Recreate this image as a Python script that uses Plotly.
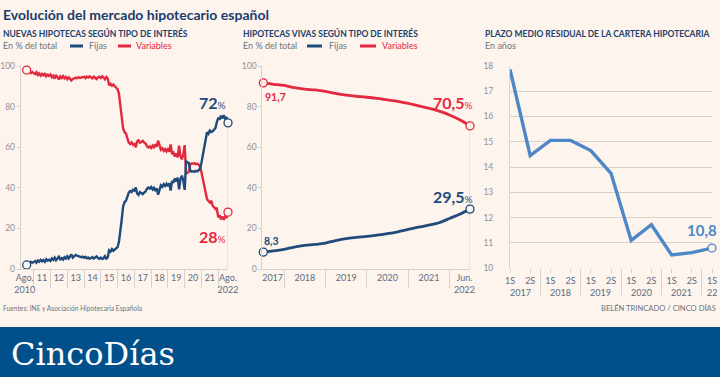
import plotly.graph_objects as go
import pandas as pd

# ---------------- DATA ----------------
# Panel 1: new mortgages by rate type, monthly Aug 2010 - Aug 2022 (% of total)
months_nuevas = pd.date_range("2010-08-01", "2022-08-01", freq="MS")
fijas_nuevas = [
    2.0, 3.2, 2.8, 3.5, 3.0,
    3.4, 3.9, 3.1, 4.2, 3.6, 4.5, 3.8, 4.4, 3.5, 4.8, 4.1, 4.6,
    4.0, 5.2, 4.5, 5.6, 4.3, 5.0, 6.1, 4.8, 5.4, 4.7, 5.8, 5.1,
    6.3, 5.2, 5.9, 7.2, 5.6, 6.4, 6.9, 6.6, 6.2, 6.0, 5.8, 6.1,
    5.5, 6.0, 5.3, 5.7, 5.0, 5.4, 5.9, 5.1, 5.6, 6.2, 5.4, 5.0,
    5.6, 4.9, 5.3, 6.3, 5.1, 5.7, 9.2, 8.6, 9.8, 9.0, 9.6, 10.4,
    10.8, 13.5, 18.0, 24.5, 30.8, 33.0, 33.6, 35.8, 37.6, 38.4, 37.9, 39.0,
    38.6, 40.2, 37.2, 36.5, 37.8, 37.4, 36.9, 37.6, 38.2, 39.5, 40.1, 39.6,
    40.4, 39.2, 40.0, 38.4, 39.8, 36.6, 38.6, 41.2, 40.5, 41.8, 40.9, 42.0,
    40.8, 42.2, 38.6, 43.4, 42.5, 44.6, 43.1, 45.0, 39.2, 44.4, 46.0, 43.6,
    39.0, 53.0, 52.6, 52.2, 48.5, 48.0, 48.2, 47.9, 48.4, 48.1, 48.6, 49.5,
    52.5, 56.0, 60.2, 63.8, 67.4, 66.6, 68.2, 67.5, 67.8, 68.6, 69.5, 72.4,
    74.5, 73.6, 75.5, 74.2, 75.8, 74.0, 74.8, 72.0,
]
variables_nuevas = [
    98.0, 96.8, 97.4, 96.5, 97.0,
    96.6, 96.0, 96.9, 95.6, 96.3, 95.2, 96.1, 95.4, 96.4, 94.9, 95.7, 95.1,
    95.8, 94.5, 95.2, 93.8, 95.6, 94.7, 93.4, 94.9, 94.1, 95.0, 93.9, 94.6,
    93.5, 94.4, 93.8, 92.9, 93.6, 93.9, 94.2, 94.0, 94.5, 94.1, 94.4, 94.3,
    94.7, 94.0, 94.8, 94.3, 94.9, 94.4, 93.9, 94.7, 94.2, 93.6, 94.5, 94.8,
    94.1, 94.9, 94.3, 93.4, 94.6, 93.9, 90.5, 91.2, 90.3, 90.9, 90.0, 89.2,
    88.6, 86.2, 81.5, 75.3, 69.2, 67.4, 66.8, 64.5, 62.3, 61.6, 62.4, 61.2,
    61.5, 60.0, 62.8, 63.4, 62.2, 62.6, 63.1, 62.4, 61.8, 60.5, 59.9, 60.4,
    59.6, 60.8, 60.0, 61.4, 60.2, 63.2, 61.4, 58.8, 59.5, 58.2, 59.1, 57.9,
    59.0, 57.8, 61.4, 56.6, 57.3, 55.4, 56.9, 55.0, 60.8, 55.6, 54.0, 56.4,
    61.0, 47.0, 47.4, 47.8, 51.5, 52.0, 51.8, 52.1, 51.6, 51.9, 51.4, 50.5,
    47.5, 44.0, 40.0, 37.0, 34.5, 33.5, 32.8, 33.6, 31.2, 30.4, 29.5, 29.8,
    25.5, 26.4, 24.5, 25.8, 24.2, 26.0, 25.2, 28.0,
]
ticks_nuevas = ["2010-06-20"] + [f"{y}-07-02" for y in range(2011, 2022)] + ["2022-08-01"]
ticktext_nuevas = ["Ago.<br>2010"] + [str(y)[2:] for y in range(2011, 2022)] + ["Ago.<br>2022"]
sep_nuevas = [f"{y}-01-01" for y in range(2011, 2023)]

# Panel 2: outstanding mortgages by rate type, quarterly Jun 2017 - Jun 2022
quarters_vivas = [
    "2017-06-30", "2017-09-30", "2017-12-31",
    "2018-03-31", "2018-06-30", "2018-09-30", "2018-12-31",
    "2019-03-31", "2019-06-30", "2019-09-30", "2019-12-31",
    "2020-03-31", "2020-06-30", "2020-09-30", "2020-12-31",
    "2021-03-31", "2021-06-30", "2021-09-30", "2021-12-31",
    "2022-03-31", "2022-06-30",
]
fijas_vivas = [8.3, 8.9, 9.7, 10.8, 11.6, 12.1, 12.8, 14.0, 15.0, 15.6, 16.1,
               16.7, 17.4, 18.3, 19.5, 20.6, 21.6, 22.8, 24.9, 27.0, 29.5]
variables_vivas = [91.7, 91.0, 90.4, 89.3, 88.6, 88.2, 87.5, 86.5, 85.6, 85.1, 84.6,
                   84.0, 83.3, 82.6, 81.6, 80.4, 79.2, 77.8, 75.9, 73.5, 70.5]
ticks_vivas = ["2017-09-20", "2018-07-02", "2019-07-02", "2020-07-01", "2021-07-02", "2022-05-12"]
ticktext_vivas = ["2017", "2018", "2019", "2020", "2021", "Jun.<br>2022"]
sep_vivas = [f"{y}-01-01" for y in range(2018, 2023)]

# Panel 3: average residual term of mortgage portfolio (years), half-yearly
semestres = ["1S", "2S", "1S", "2S", "1S", "2S", "1S", "2S", "1S", "2S", "1S"]
anios_plazo = ["2017", "2018", "2019", "2020", "2021", "22"]
plazo = [17.85, 14.45, 15.05, 15.05, 14.65, 13.75, 11.1, 11.72, 10.53, 10.62, 10.8]

# ---------------- STYLE ----------------
W, H = 720, 377
FONT = "Lato"
NAVY = "#1F4A7C"
RED = "#E2293F"
LBLUE = "#4D87C7"
BG = "#FCF4ED"
AXIS = "#D8D2CC"
YTICK = "#8E939B"
XTICK = "#5E6C80"
TITLE = "#1B3D6C"
SUBT = "#22406A"
GRAYTXT = "#6E7480"
BANNER = "#02508B"


def px(x):
    return x / W


def py(y):
    return 1 - y / H


fig = go.Figure()

# Panel 1 traces
fig.add_trace(go.Scatter(x=months_nuevas, y=variables_nuevas, xaxis="x", yaxis="y",
                         mode="lines", line=dict(color=RED, width=2.4), hoverinfo="skip"))
fig.add_trace(go.Scatter(x=months_nuevas, y=fijas_nuevas, xaxis="x", yaxis="y",
                         mode="lines", line=dict(color=NAVY, width=2.4), hoverinfo="skip"))
for vals, col in [(variables_nuevas, RED), (fijas_nuevas, NAVY)]:
    fig.add_trace(go.Scatter(x=[months_nuevas[0], months_nuevas[-1]], y=[vals[0], vals[-1]],
                             xaxis="x", yaxis="y", mode="markers", cliponaxis=False,
                             marker=dict(size=8, color=BG, line=dict(color=col, width=1.3)),
                             hoverinfo="skip"))

# Panel 2 traces
fig.add_trace(go.Scatter(x=quarters_vivas, y=variables_vivas, xaxis="x2", yaxis="y2",
                         mode="lines", line=dict(color=RED, width=2.8, shape="spline"), hoverinfo="skip"))
fig.add_trace(go.Scatter(x=quarters_vivas, y=fijas_vivas, xaxis="x2", yaxis="y2",
                         mode="lines", line=dict(color=NAVY, width=2.8, shape="spline"), hoverinfo="skip"))
for vals, col in [(variables_vivas, RED), (fijas_vivas, NAVY)]:
    fig.add_trace(go.Scatter(x=[quarters_vivas[0], quarters_vivas[-1]], y=[vals[0], vals[-1]],
                             xaxis="x2", yaxis="y2", mode="markers", cliponaxis=False,
                             marker=dict(size=8, color=BG, line=dict(color=col, width=1.3)),
                             hoverinfo="skip"))

# Panel 3 traces
idx3 = list(range(len(plazo)))
fig.add_trace(go.Scatter(x=idx3, y=plazo, xaxis="x3", yaxis="y3", mode="lines",
                         line=dict(color=LBLUE, width=3.4), hoverinfo="skip", cliponaxis=False))
fig.add_trace(go.Scatter(x=[idx3[-1]], y=[plazo[-1]], xaxis="x3", yaxis="y3", mode="markers",
                         cliponaxis=False,
                         marker=dict(size=8, color=BG, line=dict(color=LBLUE, width=1.3)),
                         hoverinfo="skip"))

ydom = [py(269), py(66)]
common_y = dict(showline=True, linecolor=AXIS, linewidth=1, ticks="outside", ticklen=3,
                tickcolor=AXIS, showgrid=False, zeroline=False, automargin=False,
                tickfont=dict(family=FONT, size=8.5, color=YTICK), fixedrange=True)
common_x = dict(type="date", showline=True, linecolor=AXIS, linewidth=1, showgrid=False,
                zeroline=False, ticks="", tickmode="array", tickangle=0, automargin=False,
                tickfont=dict(family=FONT, size=9, color=XTICK), fixedrange=True)

fig.update_layout(
    width=W, height=H, autosize=False,
    margin=dict(l=0, r=0, t=0, b=0, pad=0, autoexpand=False),
    paper_bgcolor=BG, plot_bgcolor="rgba(0,0,0,0)", showlegend=False,
    font=dict(family=FONT),
    xaxis=dict(common_x, domain=[px(20.7), px(228)], anchor="y",
               range=["2010-03-24", "2022-08-01"],
               tickvals=ticks_nuevas, ticktext=ticktext_nuevas,
               minor=dict(ticks="outside", tickmode="array", tickvals=sep_nuevas,
                          ticklen=18, tickcolor=AXIS, tickwidth=1, showgrid=False)),
    yaxis=dict(common_y, domain=ydom, anchor="x", range=[0, 100],
               tickvals=[0, 20, 40, 60, 80, 100]),
    xaxis2=dict(common_x, domain=[px(262.3), px(470)], anchor="y2",
                range=["2017-06-21", "2022-06-30"],
                tickvals=ticks_vivas, ticktext=ticktext_vivas,
                minor=dict(ticks="outside", tickmode="array", tickvals=sep_vivas,
                           ticklen=18, tickcolor=AXIS, tickwidth=1, showgrid=False)),
    yaxis2=dict(common_y, domain=ydom, anchor="x2", range=[0, 100],
                tickvals=[0, 20, 40, 60, 80, 100]),
    xaxis3=dict(domain=[px(510), px(712)], anchor="y3", range=[0, 10],
                showline=False, showgrid=False, zeroline=False, automargin=False,
                tickmode="array", tickvals=idx3, ticktext=semestres, tickangle=0,
                ticks="outside", ticklen=4, tickcolor=AXIS,
                tickfont=dict(family=FONT, size=9, color=XTICK),
                minor=dict(ticks="outside", tickmode="array",
                           tickvals=[1.5, 3.5, 5.5, 7.5, 9.5],
                           ticklen=26, tickcolor=AXIS, tickwidth=1, showgrid=False),
                fixedrange=True),
    yaxis3=dict(domain=[py(268.3), py(65.7)], anchor="x3", range=[10, 18],
                showline=True, linecolor=AXIS, showgrid=True, gridcolor=AXIS,
                gridwidth=1, zeroline=False, ticks="", dtick=1, automargin=False,
                ticklabelstandoff=14,
                tickfont=dict(family=FONT, size=8.5, color=YTICK), fixedrange=True),
)

shapes = []
# End vertical guide lines
shapes.append(dict(type="line", xref="x", yref="y", x0=months_nuevas[-1], x1=months_nuevas[-1],
                   y0=0, y1=fijas_nuevas[-1], line=dict(color=AXIS, width=1), layer="below"))
shapes.append(dict(type="line", xref="x2", yref="y2", x0=quarters_vivas[-1], x1=quarters_vivas[-1],
                   y0=0, y1=variables_vivas[-1], line=dict(color=AXIS, width=1), layer="below"))
# Legend swatches
for x0, x1, col in [(70, 83, NAVY), (118, 131, RED), (307, 322, NAVY), (360, 376, RED)]:
    shapes.append(dict(type="line", xref="paper", yref="paper", x0=px(x0), x1=px(x1),
                       y0=py(46), y1=py(46), line=dict(color=col, width=3)))
# Bottom banner
shapes.append(dict(type="rect", xref="paper", yref="paper", x0=0, x1=1, y0=0, y1=py(327),
                   fillcolor=BANNER, line=dict(width=0), layer="below"))
fig.update_layout(shapes=shapes)

ann = []


def text(x, y, s, size, color, xanchor="left", family=FONT, yanchor="middle"):
    ann.append(dict(x=px(x), y=py(y), xref="paper", yref="paper", text=s, showarrow=False,
                    xanchor=xanchor, yanchor=yanchor,
                    font=dict(family=family, size=size, color=color)))


text(1, 15, "<b>Evolución del mercado hipotecario español</b>", 14, TITLE)
text(1, 34, "<b>NUEVAS HIPOTECAS SEGÚN TIPO DE INTERÉS</b>", 8.5, SUBT)
text(241, 34, "<b>HIPOTECAS VIVAS SEGÚN TIPO DE INTERÉS</b>", 8.5, SUBT)
text(483, 34, "<b>PLAZO MEDIO RESIDUAL DE LA CARTERA HIPOTECARIA</b>", 8.5, SUBT)
text(1, 46, "En % del total", 9, GRAYTXT)
text(241, 46, "En % del total", 9, GRAYTXT)
text(483, 46, "En años", 9, GRAYTXT)
text(87, 46, "Fijas", 9, GRAYTXT)
text(134, 46, "Variables", 9, RED)
text(327, 46, "Fijas", 9, GRAYTXT)
text(380, 46, "Variables", 9, RED)

# Value labels
text(212, 103, "<b>72</b><span style='font-size:10px'>%</span>", 16, NAVY, xanchor="center")
text(212, 236, "<b>28</b><span style='font-size:10px'>%</span>", 16, RED, xanchor="center")
text(275, 97, "<b>91,7</b>", 10.5, RED, xanchor="center")
text(453, 102, "<b>70,5</b><span style='font-size:10px'>%</span>", 16, RED, xanchor="center")
text(271, 241, "<b>8,3</b>", 10.5, NAVY, xanchor="center")
text(453, 196, "<b>29,5</b><span style='font-size:10px'>%</span>", 16, NAVY, xanchor="center")
text(702, 230, "<b>10,8</b>", 15, LBLUE, xanchor="center")

# Panel 3 year labels
year_pos = [0.5, 2.5, 4.5, 6.5, 8.5, 10]
for pos, lab in zip(year_pos, anios_plazo):
    ann.append(dict(x=pos, y=py(292), xref="x3", yref="paper", text=lab, showarrow=False,
                    xanchor="center", yanchor="middle",
                    font=dict(family=FONT, size=9, color=XTICK)))

# Footer
text(1, 308, "Fuentes: INE y Asociación Hipotecaria Española", 6.7, GRAYTXT)
text(718, 308, "BELÉN TRINCADO / CINCO DÍAS", 7.6, GRAYTXT, xanchor="right")
text(9, 354, "CincoDías", 32, "#FFFFFF", family="DejaVu Serif")

fig.update_layout(annotations=ann)
fig.write_html(
    "out.html",
    config={"displayModeBar": False, "staticPlot": True},
    post_script=(
        "document.documentElement.style.margin='0';"
        "document.documentElement.style.padding='0';"
        "document.body.style.margin='0';document.body.style.padding='0';"
        "document.documentElement.style.overflow='hidden';"
        "document.body.style.overflow='hidden';"
        f"document.body.style.background='{BG}';"
    ),
)
